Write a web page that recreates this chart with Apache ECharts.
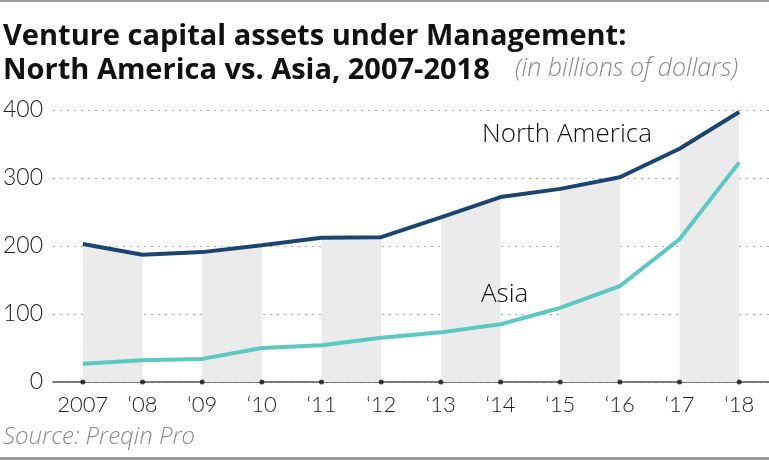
<!DOCTYPE html>
<html>
<head>
<meta charset="utf-8">
<script src="https://cdn.jsdelivr.net/npm/echarts@6/dist/echarts.min.js"></script>
<style>
  html, body {margin: 0; padding: 0; background: #fff;}
  #chart {width: 769px; height: 460px;}
</style>
</head>
<body>
<div id="chart"></div>
<script>
const years = ['2007', '\u201808', '\u201809', '\u201810', '\u201811', '\u201812', '\u201813', '\u201814', '\u201815', '\u201816', '\u201817', '\u201818']
const northAmerica = [203, 187, 191, 201, 212, 213, 242, 272, 284, 301, 343, 397]
const asia = [27, 32, 34, 50, 54, 65, 73, 85, 109, 141, 210, 323]
const axisDots = years.map(() => 0)

const navy = '#1c4471'
const teal = '#5cc8bf'
const font = 'Lato'
const textFont = '"Open Sans"'

const chart = echarts.init(document.getElementById('chart'))

// shaded bands under the NA line, every other interval
const renderBand = (params, api) => {
  const i = api.value(0)
  if (i % 2 !== 0 || i + 1 >= years.length) return null
  const p0 = api.coord([i, 0])
  const p1 = api.coord([i, northAmerica[i]])
  const p2 = api.coord([i + 1, northAmerica[i + 1]])
  const p3 = api.coord([i + 1, 0])
  return {
    type: 'polygon',
    shape: {points: [p0, p1, p2, p3]},
    style: {fill: '#ebebeb'},
  }
}

chart.setOption({
  animation: false,
  grid: {left: 53, right: 0, top: 110, bottom: 78},
  xAxis: {
    type: 'category',
    data: years,
    boundaryGap: true,
    axisLine: {lineStyle: {color: '#555', width: 1.5}},
    axisTick: {show: false},
    axisLabel: {fontFamily: font, fontWeight: 300, fontSize: 22, color: '#222', margin: 12, interval: 0},
  },
  yAxis: {
    type: 'value',
    min: 0,
    max: 400,
    interval: 100,
    axisLine: {show: false},
    axisTick: {show: false},
    axisLabel: {fontFamily: font, fontWeight: 300, fontSize: 23, color: '#222', margin: 10},
    splitLine: {lineStyle: {type: [2, 5], color: '#aaa', width: 1}},
  },
  graphic: [
    {type: 'rect', left: 0, top: 0, z: 100, shape: {width: 769, height: 2}, style: {fill: '#9a9a9a'}},
    {type: 'rect', left: 0, top: 457, z: 100, shape: {width: 769, height: 3}, style: {fill: '#9a9a9a'}},
    {type: 'text', left: 3, top: 22, z: 100, style: {text: 'Venture capital assets under Management:', font: 'bold 29px ' + textFont, fill: '#111'}},
    {type: 'text', left: 3, top: 56, z: 100, style: {text: 'North America vs. Asia, 2007-2018', font: 'bold 29px ' + textFont, fill: '#111'}},
    {type: 'text', left: 515, top: 56, z: 100, style: {text: '(in billions of dollars)', font: 'italic 300 25px ' + textFont, fill: '#8a8a8a'}},
    {type: 'text', left: 3, top: 425, z: 100, style: {text: 'Source: Preqin Pro', font: 'italic 300 24px ' + textFont, fill: '#8a8a8a'}},
    {type: 'text', left: 482, top: 122, z: 100, style: {text: 'North America', font: '300 26px ' + textFont, fill: '#111'}},
    {type: 'text', left: 481, top: 282, z: 100, style: {text: 'Asia', font: '300 26px ' + textFont, fill: '#111'}},
  ],
  series: [
    {
      type: 'custom',
      renderItem: renderBand,
      data: years.map((y, i) => [i]),
      encode: {x: 0},
      silent: true,
      z: 1,
    },
    {
      type: 'line',
      data: northAmerica,
      symbol: 'none',
      lineStyle: {color: navy, width: 4},
      z: 3,
    },
    {
      type: 'line',
      data: asia,
      symbol: 'none',
      lineStyle: {color: teal, width: 4},
      z: 3,
    },
    {
      type: 'scatter',
      data: axisDots,
      symbolSize: 5,
      itemStyle: {color: '#111'},
      clip: false,
      z: 4,
    },
  ],
})
</script>
</body>
</html>
